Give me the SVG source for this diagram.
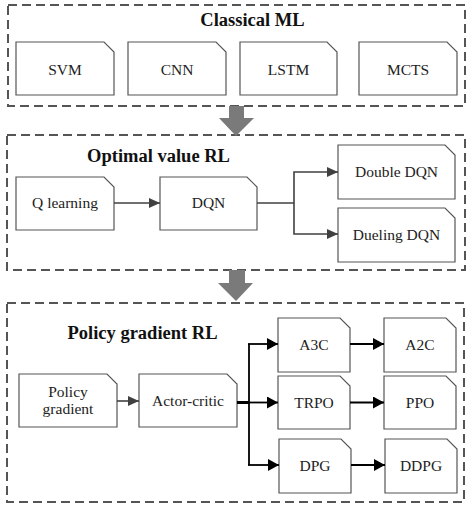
<svg xmlns="http://www.w3.org/2000/svg" width="474" height="513" viewBox="0 0 474 513">
<defs>
<style>
.frame{fill:none;stroke:#555;stroke-width:2;stroke-dasharray:9 5}
.node path{fill:#fff;stroke:#555;stroke-width:1.2}
.node text{font-family:'Liberation Serif','Times New Roman',serif;font-size:15.5px;fill:#222;text-anchor:middle}
.title{font-family:'Liberation Serif','Times New Roman',serif;font-size:18.5px;font-weight:bold;fill:#111;text-anchor:middle}
.mid{fill:none;stroke:#404040;stroke-width:1.6}
.bot{fill:none;stroke:#000;stroke-width:1.8}
.block{fill:#7a7a7a}
</style>
<marker id="ah1" markerUnits="userSpaceOnUse" markerWidth="11" markerHeight="10" refX="11" refY="5" orient="auto"><path d="M0,0 L11,5 L0,10 Z" fill="#404040"/></marker>
<marker id="ah2" markerUnits="userSpaceOnUse" markerWidth="11" markerHeight="12" refX="11" refY="6" orient="auto"><path d="M0,0 L11,6 L0,12 Z" fill="#000"/></marker>
</defs>
<rect fill="#fff" x="0" y="0" width="474" height="513"/>

<g id="frames">
<rect class="frame" x="8" y="5" width="457" height="101"/>
<rect class="frame" x="7" y="135" width="458" height="135"/>
<rect class="frame" x="7" y="303" width="457" height="199"/>
<text class="title" x="252.5" y="26">Classical ML</text>
<text class="title" x="158.5" y="162">Optimal value RL</text>
<text class="title" x="142.5" y="339">Policy gradient RL</text>
</g>

<g id="block-arrows">
<polygon class="block" points="229,106 244,106 244,118 254,118 236,136 219,118 229,118"/>
<polygon class="block" points="229,270 245,270 245,283 253,283 236,301 218,283 229,283"/>
</g>

<g id="svm" class="node"><path d="M16,42 H104 L114,52 V95 H16 Z"/><text x="65" y="75">SVM</text></g>
<g id="cnn" class="node"><path d="M128,42 H216 L226,52 V95 H128 Z"/><text x="177" y="75">CNN</text></g>
<g id="lstm" class="node"><path d="M240,42 H327 L337,52 V95 H240 Z"/><text x="288.5" y="75">LSTM</text></g>
<g id="mcts" class="node"><path d="M359,42 H447 L457,52 V95 H359 Z"/><text x="408" y="75">MCTS</text></g>

<g id="qlearning" class="node"><path d="M16,177 H104 L114,187 V230 H16 Z"/><text x="65" y="208">Q learning</text></g>
<g id="dqn" class="node"><path d="M160,177 H247 L257,187 V230 H160 Z"/><text x="208.5" y="208">DQN</text></g>
<g id="doubledqn" class="node"><path d="M338,145 H445 L455,155 V199 H338 Z"/><text x="396.5" y="177">Double DQN</text></g>
<g id="duelingdqn" class="node"><path d="M338,208 H445 L455,218 V262 H338 Z"/><text x="396.5" y="240">Dueling DQN</text></g>

<g id="policygradient" class="node"><path d="M19,374 H107 L117,384 V427 H19 Z"/><text x="68" y="397">Policy</text><text x="68" y="414">gradient</text></g>
<g id="actorcritic" class="node"><path d="M139,374 H227 L237,384 V427 H139 Z"/><text x="188" y="406">Actor-critic</text></g>
<g id="a3c" class="node"><path d="M278,318 H340 L350,328 V372 H278 Z"/><text x="314" y="350">A3C</text></g>
<g id="trpo" class="node"><path d="M278,376 H340 L350,386 V429 H278 Z"/><text x="314" y="408">TRPO</text></g>
<g id="dpg" class="node"><path d="M279,439 H341 L351,449 V493 H279 Z"/><text x="315" y="471">DPG</text></g>
<g id="a2c" class="node"><path d="M384,318 H446 L456,328 V372 H384 Z"/><text x="420" y="350">A2C</text></g>
<g id="ppo" class="node"><path d="M384,376 H446 L456,386 V429 H384 Z"/><text x="420" y="408">PPO</text></g>
<g id="ddpg" class="node"><path d="M385,439 H447 L457,449 V493 H385 Z"/><text x="421" y="471">DDPG</text></g>

<g id="connectors">
<line class="mid" x1="114" y1="203" x2="160" y2="203" marker-end="url(#ah1)"/>
<line class="mid" x1="257" y1="203" x2="294" y2="203"/>
<polyline class="mid" points="294,203 294,172 338,172" marker-end="url(#ah1)"/>
<polyline class="mid" points="294,203 294,234 338,234" marker-end="url(#ah1)"/>
<line class="mid" x1="117" y1="401" x2="139" y2="401" marker-end="url(#ah1)"/>
<line x1="237" y1="402.5" x2="249" y2="402.5" stroke="#000" stroke-width="3"/>
<line class="bot" x1="249" y1="344" x2="249" y2="465"/>
<line class="bot" x1="248" y1="344" x2="278" y2="344" marker-end="url(#ah2)"/>
<line class="bot" x1="248" y1="402.5" x2="278" y2="402.5" marker-end="url(#ah2)"/>
<line class="bot" x1="248" y1="465" x2="279" y2="465" marker-end="url(#ah2)"/>
<line class="bot" x1="350" y1="344" x2="384" y2="344" marker-end="url(#ah2)"/>
<line class="bot" x1="350" y1="402.5" x2="384" y2="402.5" marker-end="url(#ah2)"/>
<line class="bot" x1="351" y1="465" x2="385" y2="465" marker-end="url(#ah2)"/>
</g>
</svg>
